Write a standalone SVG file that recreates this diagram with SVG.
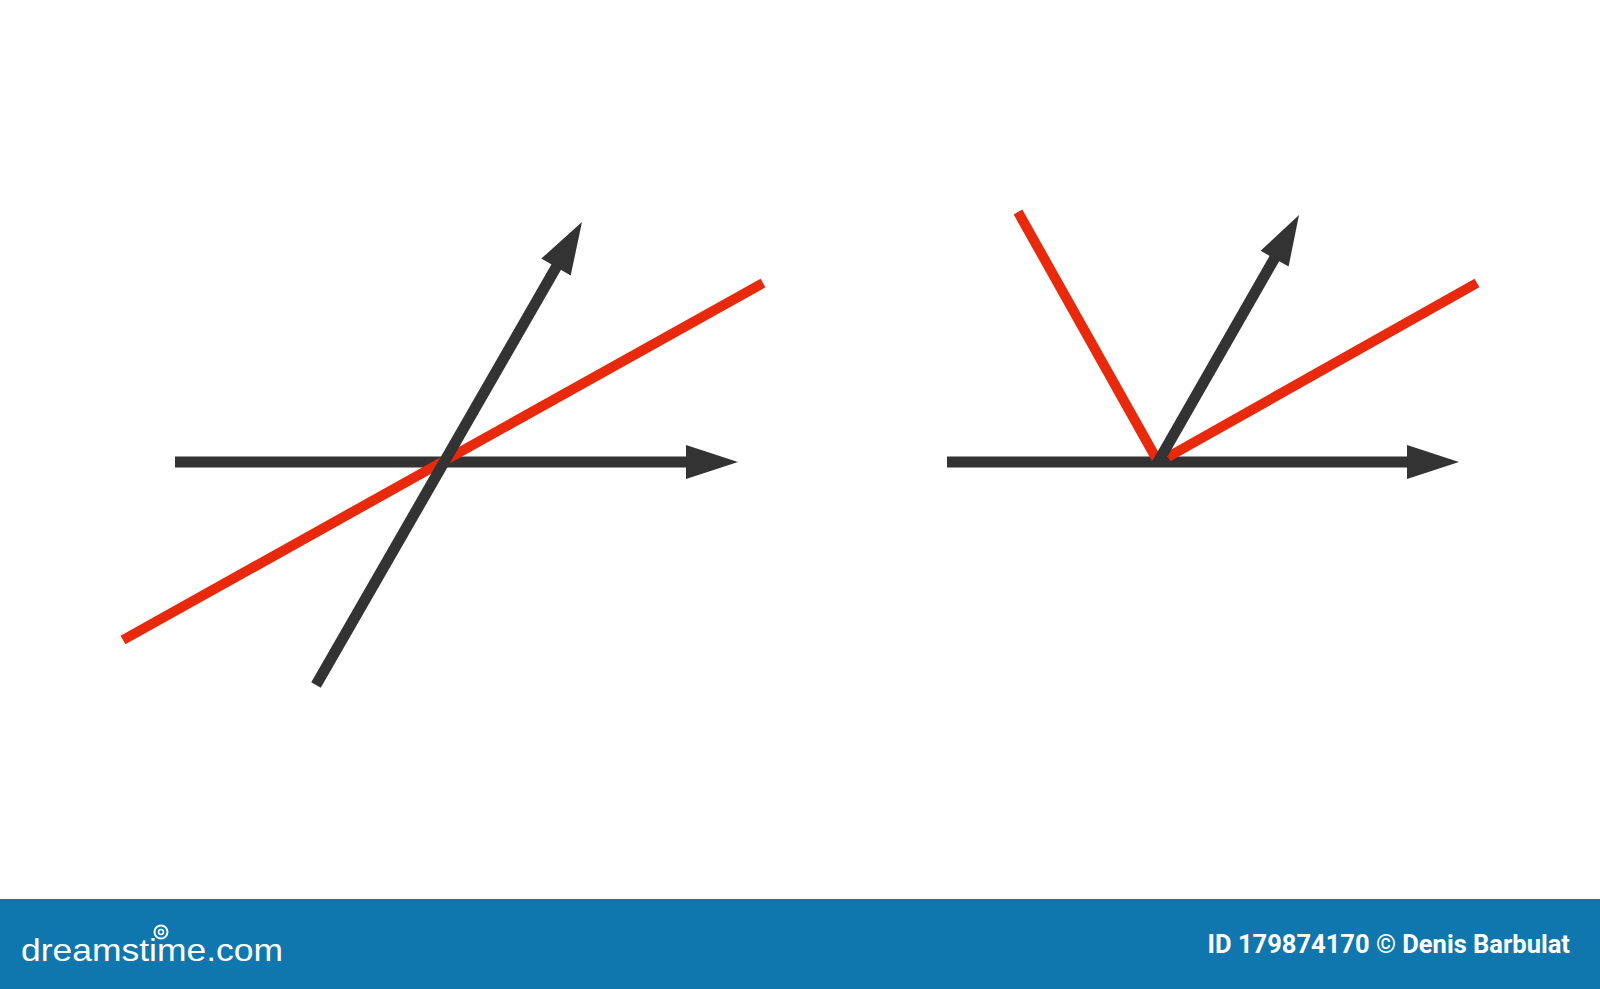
<svg xmlns="http://www.w3.org/2000/svg" width="1600" height="989" viewBox="0 0 1600 989">
<style>
.blk{stroke:#333333;stroke-width:11;fill:none;stroke-linecap:butt}
.red{stroke:#e8290b;stroke-width:10;fill:none;stroke-linecap:butt}
.head{fill:#333333}
.logo{font-family:"Liberation Sans",Arial,sans-serif;font-size:32px;fill:#ffffff}
.cred{font-family:Roboto,"Liberation Sans",sans-serif;font-size:25.5px;font-weight:bold;fill:#ffffff}
</style>
<rect width="1600" height="989" fill="#ffffff"/>
<g id="left">
<line class="blk" x1="175" y1="462" x2="690" y2="462"/>
<polygon class="head" points="738,462 686,445 686,479"/>
<line class="red" x1="123" y1="640" x2="763" y2="283"/>
<line class="blk" x1="316" y1="685" x2="558" y2="264"/>
<polygon class="head" points="582,222 541.3,258.6 570.7,275.5"/>
</g>
<g id="right">
<line class="blk" x1="947" y1="462" x2="1410" y2="462"/>
<polygon class="head" points="1459,462 1407,445 1407,479"/>
<line class="red" x1="1018" y1="212" x2="1156" y2="458"/>
<line class="red" x1="1168" y1="457" x2="1477" y2="283"/>
<line class="blk" x1="1158" y1="462" x2="1277" y2="254"/>
<polygon class="head" points="1299,215 1260.6,250.8 1288.6,266.4"/>
</g>
<g id="footer">
<rect x="0" y="899" width="1600" height="90" fill="#0f77ae"/>
<text class="logo" x="21" y="961" textLength="262" lengthAdjust="spacingAndGlyphs">dreamstime.com</text>
<circle cx="161" cy="932" r="6.5" fill="#0f77ae" stroke="#ffffff" stroke-width="2"/>
<circle cx="161" cy="932" r="2.5" fill="none" stroke="#ffffff" stroke-width="1.5"/>
<text class="cred" x="1570" y="953" text-anchor="end">ID 179874170 © Denis Barbulat</text>
</g>
</svg>
